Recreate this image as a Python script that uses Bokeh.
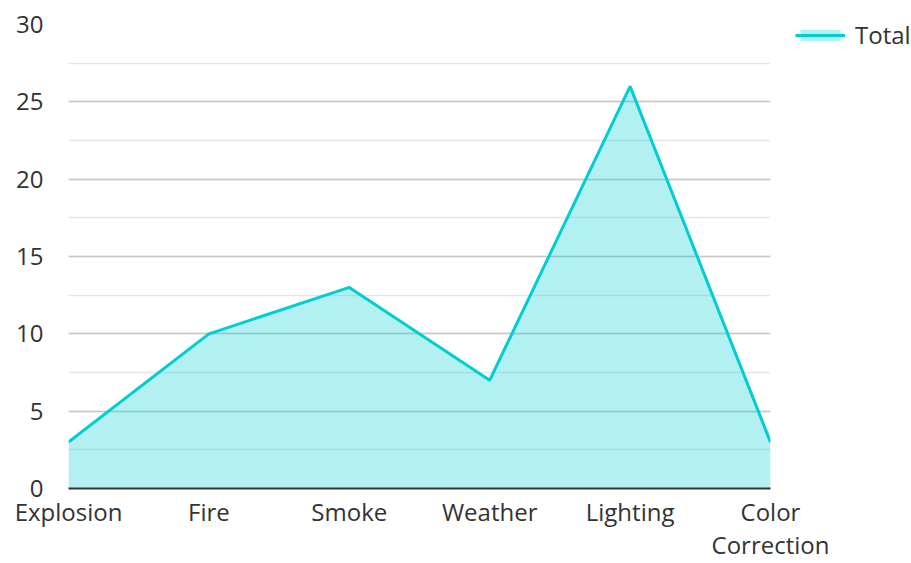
from bokeh.plotting import figure
from bokeh.models import (ColumnDataSource, FixedTicker, SingleIntervalTicker, Range1d,
                          Legend, LegendItem)
from bokeh.embed import file_html
from bokeh.resources import INLINE

categories = ["Explosion", "Fire", "Smoke", "Weather", "Lighting", "Color\nCorrection"]
totals = [3, 10, 13, 7, 26, 3]

FONT = "Open Sans"
TEXT = "#333333"
LINE = "#00CED1"
FS = "24px"

xs = list(range(len(categories)))
src = ColumnDataSource(dict(x=xs, y=totals, y0=[0] * len(xs)))

p = figure(frame_width=702, frame_height=464, output_backend="svg", toolbar_location=None,
           x_range=Range1d(0, len(categories) - 1), y_range=Range1d(0, 30),
           min_border_left=68, min_border_top=24, min_border_bottom=72, min_border_right=0)
p.outline_line_color = None

area = p.varea(x="x", y1="y0", y2="y", source=src, fill_color=LINE, fill_alpha=0.3)
line = p.line(x="x", y="y", source=src, line_color=LINE, line_width=3)

# x axis
p.xaxis.ticker = FixedTicker(ticks=xs)
p.xaxis.major_label_overrides = {i: c for i, c in enumerate(categories)}
p.xaxis.axis_line_color = TEXT
p.xaxis.axis_line_width = 2
p.xaxis.major_tick_line_color = None
p.xaxis.minor_tick_line_color = None
p.xaxis.major_label_standoff = 0
p.xaxis.major_label_text_font = FONT
p.xaxis.major_label_text_font_size = FS
p.xaxis.major_label_text_color = TEXT
p.xaxis.major_label_text_line_height = 1.0
p.xgrid.grid_line_color = None

# y axis
p.yaxis.ticker = SingleIntervalTicker(interval=5, num_minor_ticks=2)
p.yaxis.axis_line_color = None
p.yaxis.major_tick_line_color = None
p.yaxis.minor_tick_line_color = None
p.yaxis.major_label_standoff = 19
p.yaxis.major_label_text_font = FONT
p.yaxis.major_label_text_font_size = FS
p.yaxis.major_label_text_color = TEXT
p.ygrid.ticker = SingleIntervalTicker(interval=5, num_minor_ticks=2)
p.ygrid.grid_line_color = "#c8c8c8"
p.ygrid.grid_line_width = 1.5
p.ygrid.minor_grid_line_color = "#e6e6e6"
p.ygrid.minor_grid_line_width = 1.5

legend = Legend(items=[LegendItem(label="Total", renderers=[area, line])],
                location=(25, 437), padding=0, margin=0, border_line_color=None,
                background_fill_alpha=0, glyph_width=50, glyph_height=14,
                label_standoff=10, label_text_font=FONT, label_text_font_size=FS,
                label_text_color=TEXT)
p.add_layout(legend, "right")

open("out.html", "w").write(file_html(p, INLINE))
